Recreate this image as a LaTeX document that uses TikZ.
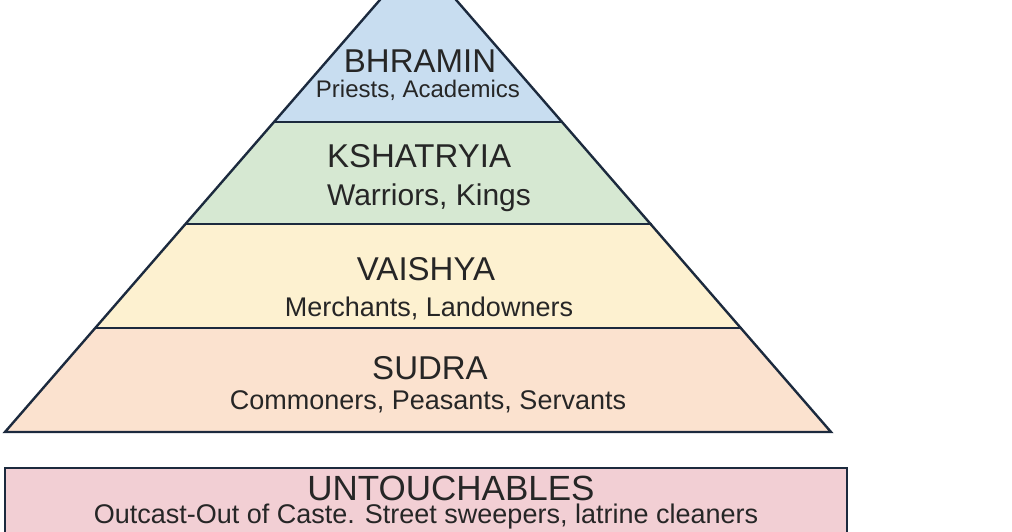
\documentclass[tikz,border=0pt]{standalone}
\usepackage{fontspec}
\setmainfont{Liberation Sans}
\begin{document}
\begin{tikzpicture}[x=1pt,y=-1pt,
  layer/.style={draw=edge,line width=2.4pt,line join=miter},
  title/.style={font=\fontsize{33}{36}\selectfont,text=black!85},
  sub/.style={font=\fontsize{27}{30}\selectfont,text=black!85}]
\definecolor{edge}{RGB}{28,42,62}
\definecolor{cb}{RGB}{200,221,240}
\definecolor{cg}{RGB}{214,232,210}
\definecolor{cy}{RGB}{253,241,208}
\definecolor{cp}{RGB}{251,226,207}
\definecolor{cu}{RGB}{242,207,212}
\useasboundingbox (0,0) rectangle (1012,532);
\clip (0,0) rectangle (1012,532);
\coordinate (apex) at (418,-44);
\coordinate (l1) at (273,122); \coordinate (r1) at (563,122);
\coordinate (l2) at (185,224); \coordinate (r2) at (652,224);
\coordinate (l3) at (96,328);  \coordinate (r3) at (742,328);
\coordinate (l4) at (5,432);   \coordinate (r4) at (831,432);
\fill[cb] (apex) -- (l1) -- (r1) -- cycle;
\fill[cg] (l1) -- (l2) -- (r2) -- (r1) -- cycle;
\fill[cy] (l2) -- (l3) -- (r3) -- (r2) -- cycle;
\fill[cp] (l3) -- (l4) -- (r4) -- (r3) -- cycle;
\draw[layer] (apex) -- (l4) -- (r4) -- cycle;
\draw[layer] (l1) -- (r1) (l2) -- (r2) (l3) -- (r3);
\node[title] (t1) at (420,61) {BHRAMIN};
\node[sub,font=\fontsize{24}{27}\selectfont] (s1) at (418,90) {Priests, Academics};
\node[title] (t2) at (419,156) {KSHATRYIA};
\node[sub,font=\fontsize{30}{33}\selectfont] (s2) at (429,198) {Warriors, Kings};
\node[title] (t3) at (426,269) {VAISHYA};
\node[sub] (s3) at (429,308) {Merchants, Landowners};
\node[title] (t4) at (430,368) {SUDRA};
\node[sub] (s4) at (428,402) {Commoners, Peasants, Servants};
\draw[layer,fill=cu] (5,468) rectangle (847,545);
\node[font=\fontsize{35}{38}\selectfont,text=black!85] (t5) at (451,488) {UNTOUCHABLES};
\node[sub] (s5) at (426,517) {Outcast-Out of Caste. Street sweepers, latrine cleaners};
\end{tikzpicture}
\end{document}
